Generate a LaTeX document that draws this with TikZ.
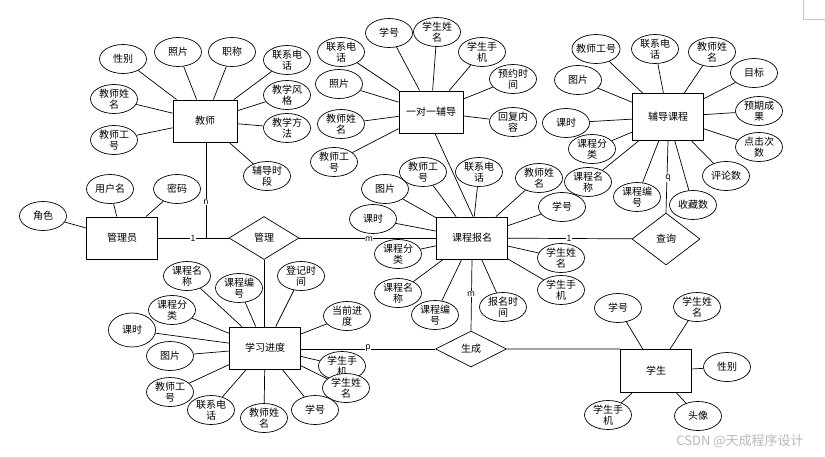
\documentclass[tikz,border=0pt]{standalone}
\usepackage{fontspec}
\setmainfont{Noto Sans CJK SC}
\usetikzlibrary{shapes.geometric,backgrounds}
\tikzset{
  ent/.style={rectangle, draw, line width=0.9pt, fill=white, minimum width=71pt, minimum height=42pt, inner sep=0pt, font=\fontsize{10}{11}\selectfont},
  attr/.style={ellipse, draw, line width=0.7pt, fill=white, minimum width=47pt, minimum height=29pt, inner xsep=-3pt, inner ysep=-1pt, align=center, font=\fontsize{10}{11}\selectfont},
  rel/.style={diamond, draw, line width=0.7pt, fill=white, inner sep=0pt, font=\fontsize{10}{11}\selectfont},
  card/.style={fill=white, inner sep=0.4pt, font=\fontsize{8.5}{9}\selectfont},
  lnk/.style={line width=0.7pt},
}
\begin{document}
\begin{tikzpicture}[x=1pt,y=-1pt]
\useasboundingbox (0,0) rectangle (825,456);
% page corner mark
\coordinate (k1) at (803,0);
\coordinate (k2) at (803,19);
\coordinate (k3) at (825,19);
\draw[black!22, line width=0.6pt] (k1) -- (k2) -- (k3);

% entities
\node[ent, minimum width=64pt] (T) at (205,121) {教师};
\node[ent, minimum width=64pt] (O) at (431,112) {一对一辅导};
\node[ent, minimum height=47pt] (C) at (668,117) {辅导课程};
\node[ent] (E) at (472,238) {课程报名};
\node[ent] (A) at (122,238) {管理员};
\node[ent] (P) at (265,348) {学习进度};
\node[ent, minimum height=43pt] (S) at (656,371) {学生};

% relationships
\node[rel, minimum width=70pt, minimum height=43pt] (M) at (264,238) {管理};
\node[rel, minimum width=68pt, minimum height=52pt] (Q) at (666,239) {查询};
\node[rel, minimum width=71pt, minimum height=36pt] (G) at (471,349) {生成};

% teacher attributes
\node[attr] (t1) at (123,59) {性别};
\node[attr] (t2) at (178,52) {照片};
\node[attr] (t3) at (232,52) {职称};
\node[attr] (t4) at (114,99) {教师姓\\名};
\node[attr] (t5) at (114,140) {教师工\\号};
\node[attr] (t6) at (287,60) {联系电\\话};
\node[attr] (t7) at (287,95) {教学风\\格};
\node[attr] (t8) at (287,128) {教学方\\法};
\node[attr] (t9) at (267,176) {辅导时\\段};
% admin attributes
\node[attr] (a1) at (110,189) {用户名};
\node[attr] (a2) at (177,189) {密码};
\node[attr] (a3) at (43,216) {角色};
% one-to-one tutoring
\node[attr] (o1) at (389,33) {学号};
\node[attr] (o2) at (437,32) {学生姓\\名};
\node[attr] (o3) at (482,52) {学生手\\机};
\node[attr] (o4) at (513,79) {预约时\\间};
\node[attr] (o5) at (513,122) {回复内\\容};
\node[attr] (o6) at (341,52) {联系电\\话};
\node[attr] (o7) at (339,84) {照片};
\node[attr] (o8) at (341,124) {教师姓\\名};
\node[attr] (o9) at (334,162) {教师工\\号};
% tutoring course
\node[attr] (c1) at (596,49) {教师工号};
\node[attr] (c2) at (655,49) {联系电\\话};
\node[attr] (c3) at (712,52) {教师姓\\名};
\node[attr] (c4) at (754,73) {目标};
\node[attr] (c5) at (759,111) {预期成\\果};
\node[attr] (c6) at (759,147) {点击次\\数};
\node[attr] (c7) at (726,176) {评论数};
\node[attr] (c8) at (693,205) {收藏数};
\node[attr] (c9) at (637,197) {课程编\\号};
\node[attr] (c10) at (588,182) {课程名\\称};
\node[attr] (c11) at (592,149) {课程分\\类};
\node[attr] (c12) at (566,123) {课时};
\node[attr] (c13) at (578,80) {图片};
% course enrolment
\node[attr] (e1) at (423,172) {教师工\\号};
\node[attr] (e2) at (479,172) {联系电\\话};
\node[attr] (e3) at (539,178) {教师姓\\名};
\node[attr] (e4) at (562,207) {学号};
\node[attr] (e5) at (561,258) {学生姓\\名};
\node[attr] (e6) at (561,290) {学生手\\机};
\node[attr] (e7) at (503,307) {报名时\\间};
\node[attr] (e8) at (435,315) {课程编\\号};
\node[attr] (e9) at (398,293) {课程名\\称};
\node[attr] (e10) at (398,254) {课程分\\类};
\node[attr] (e11) at (373,219) {课时};
\node[attr] (e12) at (385,189) {图片};
% learning progress
\node[attr] (p1) at (187,276) {课程名\\称};
\node[attr] (p2) at (239,288) {课程编\\号};
\node[attr] (p3) at (301,276) {登记时\\间};
\node[attr] (p4) at (347,316) {当前进\\度};
\node[attr] (p5) at (342,366) {学生手\\机};
\node[attr] (p6) at (346,388) {学生姓\\名};
\node[attr] (p7) at (315,410) {学号};
\node[attr] (p8) at (264,418) {教师姓\\名};
\node[attr] (p9) at (211,410) {联系电\\话};
\node[attr] (p10) at (170,392) {教师工\\号};
\node[attr] (p11) at (170,356) {图片};
\node[attr, minimum height=34pt] (p12) at (132,330) {课时};
\node[attr] (p13) at (172,310) {课程分\\类};
% student
\node[attr] (s1) at (618,308) {学号};
\node[attr] (s2) at (697,307) {学生姓\\名};
\node[attr] (s3) at (727,367) {性别};
\node[attr] (s4) at (698,416) {头像};
\node[attr] (s5) at (608,415) {学生手\\机};

% junction coordinates
\coordinate (j1) at (206,238);

\begin{scope}[on background layer]
\foreach \a in {t1,t2,t3,t4,t5,t6,t7,t8,t9} \draw[lnk] (\a) -- (T);
\foreach \a in {a1,a2,a3} \draw[lnk] (\a) -- (A);
\foreach \a in {o1,o2,o3,o4,o5,o6,o7,o8,o9} \draw[lnk] (\a) -- (O);
\foreach \a in {c1,c2,c3,c4,c5,c6,c7,c8,c9,c10,c11,c12,c13} \draw[lnk] (\a) -- (C);
\foreach \a in {e1,e2,e3,e4,e5,e6,e7,e8,e9,e10,e11,e12} \draw[lnk] (\a) -- (E);
\foreach \a in {p1,p2,p3,p4,p5,p6,p7,p8,p9,p10,p11,p12,p13} \draw[lnk] (\a) -- (P);
\foreach \a in {s1,s2,s3,s4,s5} \draw[lnk] (\a) -- (S);
% relationship connectors
\draw[lnk] (A) -- (M);
\draw[lnk] (T.south -| j1) -- (j1);
\draw[lnk] (M) -- (E);
\draw[lnk] (M.south) -- (P.north -| M.south);
\draw[lnk] ([xshift=4pt]O.south) -- ([xshift=1pt]E.north);
\draw[lnk] (E) -- (Q);
\draw[lnk] (C.south) -- (Q.north);
\draw[lnk] (E.south) -- (G.north);
\draw[lnk, line width=1pt] (P.east |- G.west) -- (G.west);
\draw[lnk] (G.east) -- (S.north west);
\end{scope}

% cardinality labels
\node[card] (n1) at (206,202) {n};
\node[card] (n2) at (193,238) {1};
\node[card] (n3) at (369,239) {m};
\node[card] (n4) at (569,238) {1};
\node[card] (n5) at (668,178) {q};
\node[card] (n6) at (471,294) {m};
\node[card] (n7) at (368,348) {p};

% watermark
\node[text=black!28, font=\fontsize{13}{14}\selectfont, inner sep=0pt] (wm) at (740,441) {CSDN @天成程序设计};
\end{tikzpicture}
\end{document}
